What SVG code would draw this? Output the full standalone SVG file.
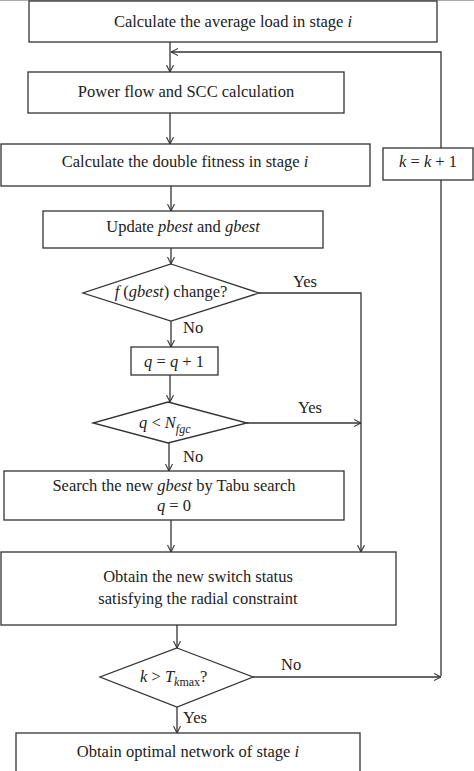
<svg xmlns="http://www.w3.org/2000/svg" width="474" height="771" viewBox="0 0 474 771">
<defs>
<style>
.box{fill:#fff;stroke:#333;stroke-width:1.3}
.ln{fill:none;stroke:#333;stroke-width:1.3}
text{font-family:"Liberation Serif","Times New Roman",serif;font-size:16.5px;fill:#222}
.c{text-anchor:middle}
.i{font-style:italic}
</style>
<marker id="ah" viewBox="0 0 10 10" refX="10" refY="5" markerWidth="7" markerHeight="9" markerUnits="userSpaceOnUse" orient="auto">
<path d="M0,0 L10,5 L0,10" fill="none" stroke="#333" stroke-width="1.5"/>
</marker>
</defs>
<rect width="474" height="771" fill="#fff"/>
<line x1="0" y1="0.5" x2="474" y2="0.5" stroke="#aaa" stroke-width="1"/>
<g id="connectors">
<path class="ln" d="M170,42 V72" marker-end="url(#ah)"/>
<path class="ln" d="M441,148 V52 H171" marker-end="url(#ah)"/>
<path class="ln" d="M441,676 V180"/>
<path class="ln" d="M170,113 V144" marker-end="url(#ah)"/>
<path class="ln" d="M171,186 V211" marker-end="url(#ah)"/>
<path class="ln" d="M171,248 V264" marker-end="url(#ah)"/>
<path class="ln" d="M259,293 H361 V552" marker-end="url(#ah)"/>
<path class="ln" d="M171,321 V347" marker-end="url(#ah)"/>
<path class="ln" d="M170,375 V402" marker-end="url(#ah)"/>
<path class="ln" d="M247,423 H361" marker-end="url(#ah)"/>
<path class="ln" d="M169,443 V471" marker-end="url(#ah)"/>
<path class="ln" d="M171,520 V552" marker-end="url(#ah)"/>
<path class="ln" d="M177,625 V648" marker-end="url(#ah)"/>
<path class="ln" d="M177,707 V733" marker-end="url(#ah)"/>
<path class="ln" d="M253,677 H441" marker-end="url(#ah)"/>
<text x="305" y="287" class="c">Yes</text>
<text x="183" y="333">No</text>
<text x="298" y="413">Yes</text>
<text x="183" y="462">No</text>
<text x="281" y="670">No</text>
<text x="183" y="723">Yes</text>
</g>
<g id="n1">
<rect class="box" x="29" y="1" width="408" height="41"/>
<text x="233" y="27" class="c">Calculate the average load in stage <tspan class="i">i</tspan></text>
</g>
<g id="n2">
<rect class="box" x="28" y="72" width="316" height="41"/>
<text x="186" y="97" class="c">Power flow and SCC calculation</text>
</g>
<g id="n3">
<rect class="box" x="1" y="144" width="369" height="42"/>
<text x="185" y="167" class="c">Calculate the double fitness in stage <tspan class="i">i</tspan></text>
</g>
<g id="nk">
<rect class="box" x="383" y="148" width="90" height="32"/>
<text x="428" y="167" class="c"><tspan class="i">k</tspan> = <tspan class="i">k</tspan> + 1</text>
</g>
<g id="n4">
<rect class="box" x="43" y="211" width="280" height="37"/>
<text x="183" y="232" class="c">Update <tspan class="i">pbest</tspan> and <tspan class="i">gbest</tspan></text>
</g>
<g id="d1">
<polygon class="box" points="171,264 259,293 171,321 83,293"/>
<text x="171" y="297" class="c"><tspan class="i">f</tspan> (<tspan class="i">gbest</tspan>) change?</text>
</g>
<g id="nq">
<rect class="box" x="131" y="347" width="87" height="28"/>
<text x="174" y="367" class="c"><tspan class="i">q</tspan> = <tspan class="i">q</tspan> + 1</text>
</g>
<g id="d2">
<polygon class="box" points="168,402 247,423 168,443 93,423"/>
<text x="139" y="428"><tspan class="i">q</tspan> &lt; <tspan class="i">N</tspan><tspan class="i" font-size="12" dy="5">fgc</tspan></text>
</g>
<g id="n5">
<rect class="box" x="4" y="471" width="340" height="49"/>
<text x="174" y="491" class="c">Search the new <tspan class="i">gbest</tspan> by Tabu search</text>
<text x="174" y="511" class="c"><tspan class="i">q</tspan> = 0</text>
</g>
<g id="n6">
<rect class="box" x="1" y="552" width="395" height="73"/>
<text x="198" y="582" class="c">Obtain the new switch status</text>
<text x="198" y="604" class="c">satisfying the radial constraint</text>
</g>
<g id="d3">
<polygon class="box" points="177,648 253,677 177,707 100,677"/>
<text x="140" y="682"><tspan class="i">k</tspan> &gt; <tspan class="i">T</tspan><tspan font-size="12" dy="4"><tspan class="i">k</tspan>max</tspan><tspan dy="-4">?</tspan></text>
</g>
<g id="n7">
<rect class="box" x="16" y="733" width="344" height="40"/>
<text x="188" y="757" class="c">Obtain optimal network of stage <tspan class="i">i</tspan></text>
</g>
</svg>
